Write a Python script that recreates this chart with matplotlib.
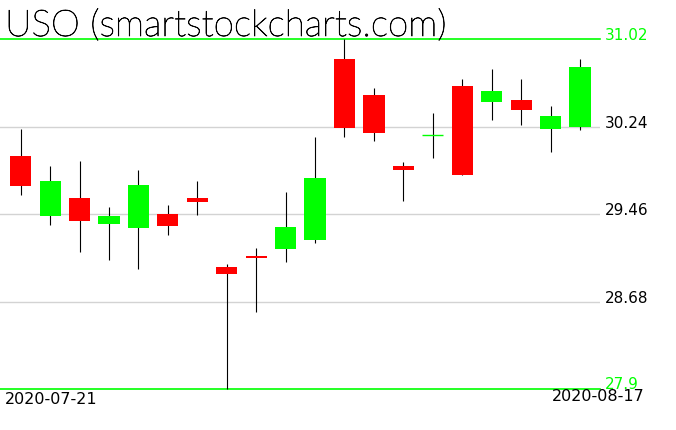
import matplotlib
matplotlib.use("Agg")
import matplotlib.pyplot as plt
import matplotlib.patheffects as pe
import numpy as np

# データ (USO, 2020-07-21 .. 2020-08-17)
dates = ["2020-07-21", "2020-07-22", "2020-07-23", "2020-07-24", "2020-07-27",
         "2020-07-28", "2020-07-29", "2020-07-30", "2020-07-31", "2020-08-03",
         "2020-08-04", "2020-08-05", "2020-08-06", "2020-08-07", "2020-08-10",
         "2020-08-11", "2020-08-12", "2020-08-13", "2020-08-14", "2020-08-17"]
opens  = [29.98, 29.44, 29.60, 29.37, 29.34, 29.457, 29.606, 28.99, 29.09, 29.145,
          29.225, 30.845, 30.524, 29.89, 30.164, 30.604, 30.464, 30.479, 30.223, 30.238]
highs  = [30.22, 29.89, 29.935, 29.52, 29.855, 29.545, 29.757, 29.017, 29.16, 29.66,
          30.15, 31.02, 30.586, 29.924, 30.363, 30.666, 30.755, 30.666, 30.426, 30.845]
lows   = [29.635, 29.36, 29.12, 29.055, 28.975, 29.27, 29.448, 27.90, 28.59, 29.03,
          29.207, 30.147, 30.116, 29.573, 29.965, 29.81, 30.303, 30.256, 30.016, 30.214]
closes = [29.715, 29.757, 29.40, 29.445, 29.72, 29.35, 29.564, 28.93, 29.065, 29.347,
          29.784, 30.227, 30.18, 29.85, 30.164, 29.813, 30.56, 30.393, 30.336, 30.773]

grid_levels = [28.68, 29.46, 30.24]
price_min, price_max = 27.9, 31.02

# 色
up_color = "#00ff00"
down_color = "#ff0000"
grid_color = "#d3d3d3"

W, H = 676, 431
fig = plt.figure(figsize=(W / 100, H / 100), dpi=100)
plot_right = 600
y_top, y_bot = 40.3, 390
ax = fig.add_axes([0, (H - y_bot) / H, plot_right / W, (y_bot - y_top) / H])
ax.set_xlim(-0.703, 19.68)
ax.set_ylim(price_min, price_max)
ax.axis("off")

x = np.arange(len(dates))
ytrans = ax.get_yaxis_transform()

# グリッド線
for lv in grid_levels:
    ax.axhline(lv, color=grid_color, lw=1, zorder=0)
    ax.text(1.008, lv, f"{lv:.2f}", transform=ytrans,
            ha="left", va="baseline", fontsize=11, color="black", clip_on=False)

# 最高値・最安値の線
ax.axhline(price_max, color=up_color, lw=1.2, zorder=0, clip_on=False)
ax.axhline(price_min, color=up_color, lw=1.2, zorder=0, clip_on=False)
ax.text(1.008, price_max, "31.02", transform=ytrans,
        ha="left", va="baseline", fontsize=11, color=up_color, clip_on=False)
ax.text(1.008, price_min + 0.01, "27.9", transform=ytrans,
        ha="left", va="baseline", fontsize=11, color=up_color, clip_on=False)

# ローソク足
ax.vlines(x, lows, highs, color="black", lw=0.8, zorder=1, clip_on=False)
for i in range(len(dates)):
    o, c = opens[i], closes[i]
    col = up_color if c >= o else down_color
    if abs(c - o) < 0.005:
        ax.hlines(o, i - 0.36, i + 0.36, color=col, lw=1, zorder=2)
    else:
        ax.bar(i, abs(c - o), bottom=min(o, c), width=0.72, color=col,
               linewidth=0, zorder=2)

# タイトルと日付
fig.text(5 / W, 1 - 37 / H, "USO (smartstockcharts.com)", fontsize=26.5,
         color="black", ha="left", va="baseline", fontweight="light",
         family=["Lato", "DejaVu Sans"],
         path_effects=[pe.withStroke(linewidth=0.5, foreground="black")])
fig.text(5 / W, 1 - 400 / H, dates[0], fontsize=11.5, ha="left", va="center")
fig.text(645 / W, 1 - 397 / H, dates[-1], fontsize=11.5, ha="right", va="center")

fig.savefig("out.png", dpi=100)
